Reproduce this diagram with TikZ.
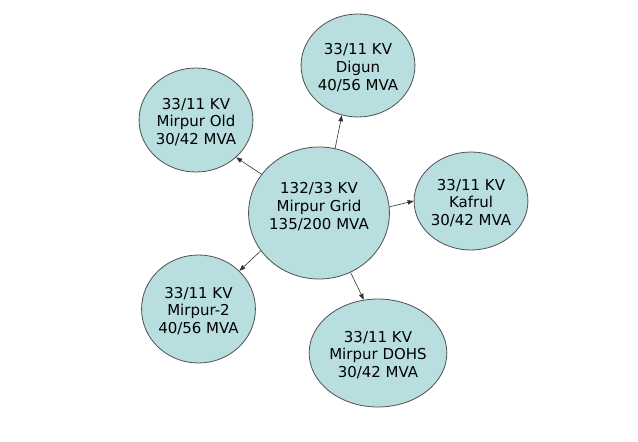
\documentclass[tikz,border=0pt]{standalone}
\usepackage{fontspec}
\setmainfont{DejaVu Sans}
\usetikzlibrary{shapes.geometric,arrows.meta}
\definecolor{stationfill}{RGB}{184,222,224}
\definecolor{stationedge}{RGB}{80,80,80}
\newcommand\stlabel[2][-7pt]{\raisebox{#1}[0pt][0pt]{\begin{tabular}{@{}c@{}}#2\end{tabular}}}
\begin{document}
\begin{tikzpicture}[x=1pt,y=-1pt,
  station/.style={ellipse,draw=stationedge,line width=0.8pt,fill=stationfill,inner sep=0pt,
    text=black,font=\fontsize{15}{17.6}\selectfont},
  feed/.style={-{Triangle[length=6pt,width=4.5pt]},line width=0.6pt,draw=black!80}]
\useasboundingbox (0,0) rectangle (638,442);
\fill[white] (0,0) rectangle (638,442);
\node[station,minimum width=138pt,minimum height=132pt] (grid) at (319,213)
  {\stlabel[1.5pt]{132/33 KV\\Mirpur Grid\\135/200 MVA}};
\node[station,minimum width=108pt,minimum height=103pt] (digun) at (358,65.5) {\stlabel{33/11 KV\\Digun\\40/56 MVA}};
\node[station,minimum width=108pt,minimum height=104pt] (old) at (196,120) {\stlabel{33/11 KV\\Mirpur Old\\30/42 MVA}};
\node[station,minimum width=98pt,minimum height=98pt] (kafrul) at (471,201) {\stlabel{33/11 KV\\Kafrul\\30/42 MVA}};
\node[station,minimum width=103pt,minimum height=108pt] (mp2) at (198.5,309) {\stlabel{33/11 KV\\Mirpur-2\\40/56 MVA}};
\node[station,minimum width=118pt,minimum height=108pt] (dohs) at (378,353) {\stlabel{33/11 KV\\Mirpur DOHS\\30/42 MVA}};
\draw[feed] (grid.76) -- (digun.252);
\draw[feed] (grid.146) -- (old.-43.5);
\draw[feed] (grid.5.8) -- (kafrul.180);
\draw[feed] (grid.213.5) -- (mp2.43);
\draw[feed] (grid.-62) -- (dohs.105);
\end{tikzpicture}
\end{document}
